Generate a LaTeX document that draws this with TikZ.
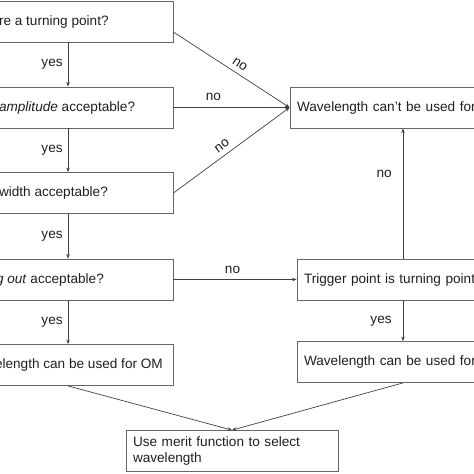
\documentclass[tikz,border=0pt]{standalone}
\usepackage{fontspec}
\setmainfont{Liberation Sans}
\usetikzlibrary{arrows.meta}
\begin{document}
\begin{tikzpicture}[x=1pt, y=-1pt, font=\fontsize{13.6}{16}\selectfont]
                    \tikzstyle{box} = [draw=black!60, line width=0.8pt, text=black!88, minimum height=41pt, inner xsep=7pt, align=left]
                    \tikzstyle{lbox} = [box, minimum width=210pt]
                    \tikzstyle{rbox} = [box, text width=198pt]
                    \tikzstyle{link} = [draw=black!75, line width=0.7pt, -{Stealth[length=4.5pt, width=3.5pt]}]
                    \tikzstyle{lbl} = [text=black!88, inner sep=2pt]
                    \useasboundingbox (0,0) rectangle (474,474);
                    % left column
                    \node[lbox] (turn) at (68,21.5) {\makebox[196pt][l]{\hspace*{29pt}re a turning point?}};
                    \node[lbox] (amp) at (68,107.5) {\makebox[196pt][l]{\hspace*{29pt}\textit{amplitude} acceptable?}};
                    \node[lbox] (width) at (68,193) {\makebox[196pt][l]{\hspace*{29pt}width acceptable?}};
                    \node[lbox] (tail) at (68,279.5) {\makebox[196pt][l]{\hspace*{26pt}\textit{g out} acceptable?}};
                    \node[lbox] (okleft) at (68,365) {\makebox[196pt][l]{\hspace*{25pt}elength can be used for OM}};
                    % right column
                    \node[box, text width=212pt] (reject) at (403,107.5) {Wavelength can't be used for};
                    \node[rbox] (trigger) at (403,279.5) {Trigger point is turning point};
                    \node[rbox] (okright) at (403,362) {Wavelength can be used for};
                    % bottom
                    \node[rbox] (merit) at (232,451) {Use merit function to select\\wavelength};
                    % yes
                    \draw[link] (turn) -- node[lbl, left=3pt] {yes} (amp);
                    \draw[link] (amp) -- node[lbl, left=3pt] {yes} (width);
                    \draw[link] (width) -- node[lbl, left=3pt] {yes} (tail);
                    \draw[link] (tail) -- node[lbl, left=3pt] {yes} (okleft);
                    \draw[link] (trigger) -- node[lbl, left=9pt] {yes} (okright);
                    % no
                    \draw[link] ([yshift=-10.5pt]turn.east) -- node[lbl, sloped, above=3pt, pos=0.53] {no} (reject.west);
                    \draw[link] (amp.east) -- node[lbl, above=5pt, pos=0.345] {no} (reject.west);
                    \draw[link] (width.east) -- node[lbl, sloped, above=3pt, pos=0.465] {no} (reject.west);
                    \draw[link] (tail.east) -- node[lbl, above=4pt, pos=0.48] {no} (trigger.west);
                    \draw[link] (trigger.north) -- node[lbl, left=9pt, pos=0.65] {no} (reject.south);
                    % merit
                    \draw[link] (okleft.south) -- (merit.north);
                    \draw[link] (okright.south) -- (merit.north);
\end{tikzpicture}
\end{document}
